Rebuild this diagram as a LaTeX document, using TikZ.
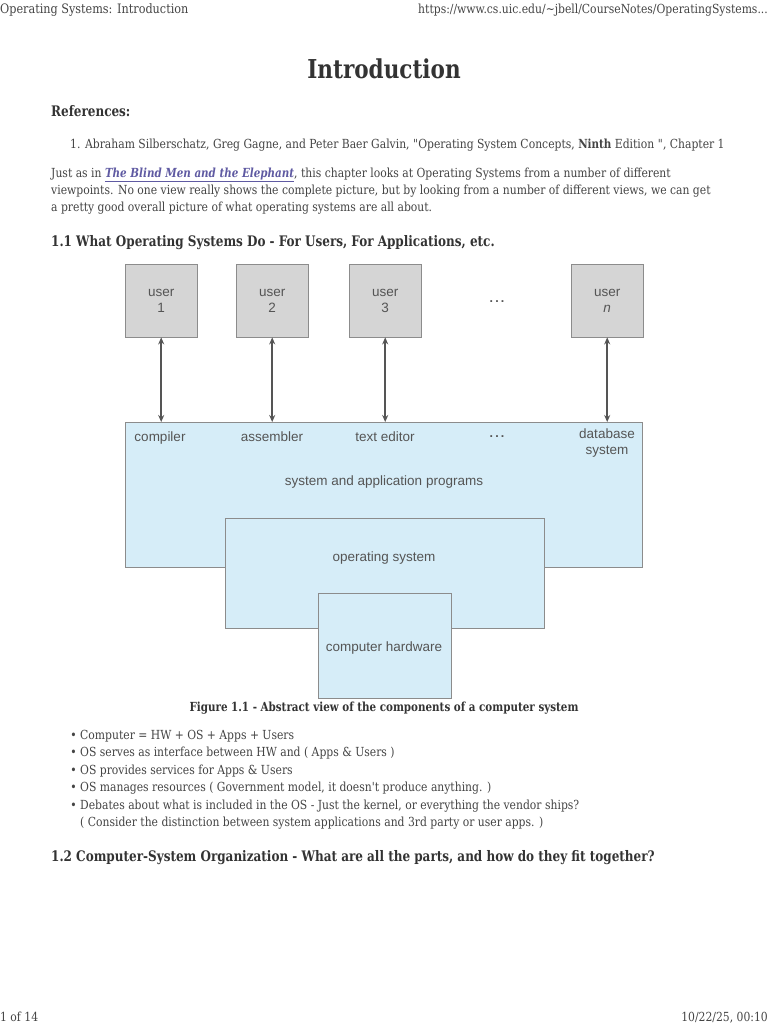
\documentclass[tikz,border=0pt]{standalone}
\usepackage{fontspec}
\setmainfont{DejaVu Serif Condensed}[FakeStretch=0.96, BoldFeatures={FakeStretch=0.92}, BoldItalicFeatures={FakeStretch=0.92}]
\setsansfont{Liberation Sans}
\usepackage{tikz}
\usetikzlibrary{arrows.meta, positioning}

\definecolor{bodytext}{HTML}{444444}
\definecolor{linkblue}{HTML}{5F5AA2}
\definecolor{boxblue}{HTML}{D6EDF8}
\definecolor{boxgray}{HTML}{D5D5D5}
\definecolor{edgegray}{HTML}{8C8C8C}
\definecolor{labelgray}{HTML}{555555}

\begin{document}
\begin{tikzpicture}[
        x=1pt, y=-1pt,
        line/.style={anchor=base west, inner sep=0, text=bodytext, font=\fontsize{12.5}{17}\selectfont},
        heading/.style={anchor=base west, inner sep=0, text=black!80, font=\fontsize{14.5}{17}\selectfont\bfseries},
        userbox/.style={rectangle, draw=edgegray, fill=boxgray, minimum width=72pt, minimum height=73pt, inner sep=0, anchor=north west, align=center, text=labelgray, font=\sffamily\fontsize{13.5}{16}\selectfont},
        layer/.style={rectangle, draw=edgegray, fill=boxblue, inner sep=0, anchor=north west},
        tag/.style={inner sep=0, text=labelgray, align=center, font=\sffamily\fontsize{13.5}{16}\selectfont},
        arrow/.style={{Stealth[length=7pt, width=6pt]}-{Stealth[length=7pt, width=6pt]}, line width=1.8pt, draw=labelgray}
    ]
        \fill[white] (0,0) rectangle (768,1024);
        \useasboundingbox (0,0) rectangle (768,1024);

        % page header and footer
        \node[line, font=\fontsize{13}{15}\selectfont] (hleft) at (0,14) {Operating Systems: Introduction};
        \node[line, anchor=base east, font=\fontsize{12.5}{15}\selectfont] (hright) at (768,14) {https://www.cs.uic.edu/\textasciitilde jbell/CourseNotes/OperatingSystems...};
        \node[line, font=\fontsize{12.5}{15}\selectfont] (fleft) at (0,1021) {1 of 14};
        \node[line, anchor=base east, font=\fontsize{12.5}{15}\selectfont] (fright) at (768,1021) {10/22/25, 00:10};

        % title and references
        \node[heading, anchor=base, font=\fontsize{26}{30}\selectfont\bfseries] (title) at (384,79) {Introduction};
        \node[heading] (refs) at (51,117) {References:};
        \node[line] (ref1) at (70,149) {1. Abraham Silberschatz, Greg Gagne, and Peter Baer Galvin, \textquotedbl Operating System Concepts, \textbf{Ninth} Edition \textquotedbl, Chapter 1};
        \node[line, align=left, anchor=north west] (intro) at (51,168) {Just as in {\color{linkblue}\underline{\textbf{\textit{The Blind Men and the Elephant}}}}, this chapter looks at Operating Systems from a number of different\\
            viewpoints. No one view really shows the complete picture, but by looking from a number of different views, we can get\\
            a pretty good overall picture of what operating systems are all about.};
        \node[heading] (sec1) at (51,246) {1.1 What Operating Systems Do - For Users, For Applications, etc.};

        % figure 1.1
        \node[userbox] (user1) at (125,264) {user\\1};
        \node[userbox] (user2) at (236,264) {user\\2};
        \node[userbox] (user3) at (349,264) {user\\3};
        \node[tag, font=\sffamily\bfseries\fontsize{12.5}{15}\selectfont] (udots) at (497,302) {.\,.\,.};
        \node[userbox] (usern) at (571,264) {user\\\textit{n}};

        \node[layer, minimum width=517pt, minimum height=145pt] (progs) at (125,422) {};
        \node[layer, minimum width=319pt, minimum height=110pt] (os) at (225,518) {};
        \node[layer, minimum width=133pt, minimum height=105pt] (hw) at (318,593) {};

        \node[tag, anchor=base] (compiler) at (160,441) {compiler};
        \node[tag, anchor=base] (assembler) at (272,441) {assembler};
        \node[tag, anchor=base] (editor) at (385,441) {text editor};
        \node[tag, font=\sffamily\bfseries\fontsize{12.5}{15}\selectfont] (pdots) at (497,437) {.\,.\,.};
        \node[tag, anchor=north] (dbase) at (607,429) {database\\system};
        \node[tag, anchor=base] (progtag) at (384,485) {system and application programs};
        \node[tag, anchor=base] (ostag) at (384,561) {operating system};
        \node[tag, anchor=base] (hwtag) at (384,651) {computer hardware};

        \draw[arrow] (user1.south) -- (user1.south |- progs.north);
        \draw[arrow] (user2.south) -- (user2.south |- progs.north);
        \draw[arrow] (user3.south) -- (user3.south |- progs.north);
        \draw[arrow] (usern.south) -- (usern.south |- progs.north);

        \node[heading, anchor=base, font=\fontsize{12.5}{15}\selectfont\bfseries] (caption) at (384,711) {Figure 1.1 - Abstract view of the components of a computer system};

        % notes under the figure
        \node[line, align=left, anchor=north west, font=\fontsize{12.5}{17.4}\selectfont] (notes) at (80,730) {\llap{\textbullet\ }Computer = HW + OS + Apps + Users\\
            \llap{\textbullet\ }OS serves as interface between HW and ( Apps \& Users )\\
            \llap{\textbullet\ }OS provides services for Apps \& Users\\
            \llap{\textbullet\ }OS manages resources ( Government model, it doesn\textquotesingle t produce anything. )\\
            \llap{\textbullet\ }Debates about what is included in the OS - Just the kernel, or everything the vendor ships?\\
            ( Consider the distinction between system applications and 3rd party or user apps. )};
        \node[heading] (sec2) at (51,861) {1.2 Computer-System Organization - What are all the parts, and how do they fit together?};
    \end{tikzpicture}
\end{document}
